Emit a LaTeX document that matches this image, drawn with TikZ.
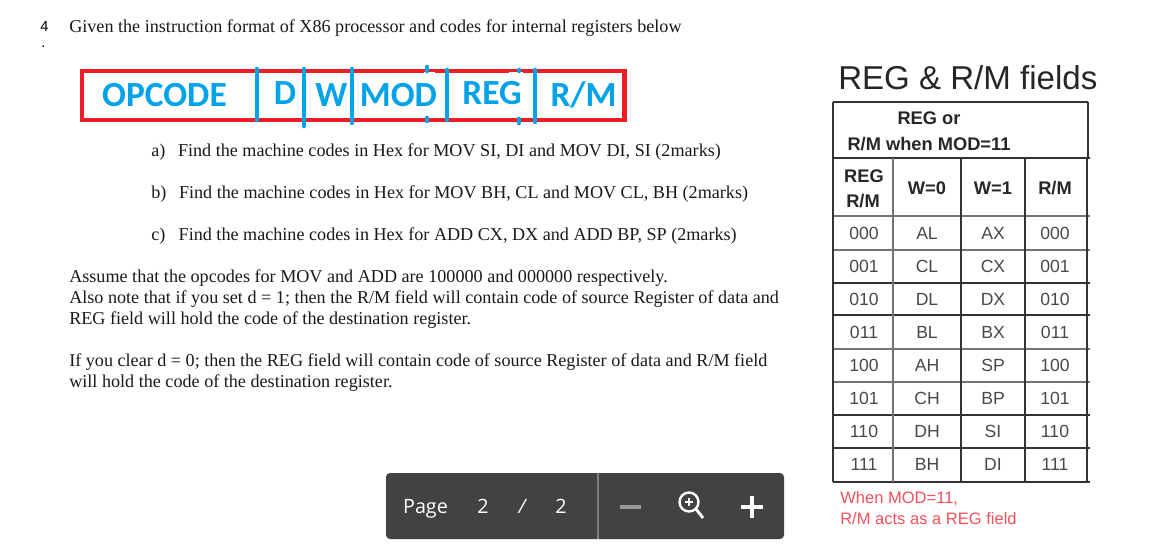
\documentclass[tikz,border=0pt]{standalone}
\usepackage{fontspec}
\setmainfont{Liberation Serif}
\setsansfont{Liberation Sans}
\newfontfamily\calib{Carlito}
\newfontfamily\ui{Open Sans}
\definecolor{fieldred}{HTML}{EE1C25}
\definecolor{fieldblue}{HTML}{00A2E8}
\definecolor{pill}{HTML}{424242}
\definecolor{cellgrey}{HTML}{484848}
\definecolor{notered}{HTML}{F2515A}
\definecolor{ttl}{HTML}{262626}
\tikzset{
  body/.style={anchor=base west,inner sep=0pt,font=\fontsize{13.6pt}{16pt}\selectfont,text=black!90},
  fieldtxt/.style={anchor=base,inner sep=0pt,font=\calib\bfseries\fontsize{26.5pt}{30pt}\selectfont,text=fieldblue},
  sep/.style={draw=fieldblue,line width=3.4pt,line cap=round},
  cellc/.style={anchor=base,inner sep=0pt,font=\sffamily\fontsize{13.2pt}{15pt}\selectfont,text=cellgrey},
  cellh/.style={anchor=base,inner sep=0pt,font=\sffamily\bfseries\fontsize{13.7pt}{15pt}\selectfont,text=black!85},
  thick line/.style={draw=black!80,line width=2pt},
  thin line/.style={draw=black!55,line width=1.3pt},
  uitxt/.style={anchor=base,inner sep=0pt,font=\ui\fontsize{14.8pt}{18pt}\selectfont,text=white},
  notetxt/.style={anchor=base west,inner sep=0pt,font=\sffamily\fontsize{12.4pt}{15pt}\selectfont,text=notered},
}
\begin{document}
\begin{tikzpicture}[x=0.75pt,y=-0.75pt]
\useasboundingbox (0,0) rectangle (1166,545);
% header
\node[anchor=base west,inner sep=0pt,font=\sffamily\fontsize{11pt}{13pt}\selectfont] (num) at (40,32) {4};
\node[anchor=base west,inner sep=0pt,font=\sffamily\fontsize{11pt}{13pt}\selectfont] (dot) at (41,48) {.};
\node[body] (given) at (69,32.5) {Given the instruction format of X86 processor and codes for internal registers below};
% instruction format
\draw[draw=fieldred,line width=3.7pt] (82,71) rectangle (624.5,120);
\fill[white] (424,72.5) rectangle (435,76);
\fill[white] (509,72.5) rectangle (523,76);
\draw[sep] (257,69) -- (257,120);
\draw[sep] (304,69) -- (304,126);
\draw[sep] (352,69) -- (352,123);
\draw[sep] (427,67) -- (427,71);
\draw[sep] (427,118) -- (427,121);
\draw[sep] (447,70) -- (447,120);
\draw[sep] (519,70) -- (519,71);
\draw[sep] (519,119) -- (519,123);
\draw[sep] (535,70) -- (535,122);
\node[fieldtxt] (op) at (164.5,107) {OPCODE};
\node[fieldtxt] (d) at (285,105) {D};
\node[fieldtxt] (w) at (331.5,106.5) {W};
\node[fieldtxt] (mod) at (398.5,107) {MOD};
\node[fieldtxt] (reg) at (492,105) {REG};
\node[fieldtxt] (rm) at (583.5,107) {R/M};
% questions
\node[body] (qa) at (151,156.5) {a)\hspace{9.5pt}Find the machine codes in Hex for MOV SI, DI and MOV DI, SI (2marks)};
\node[body] (qb) at (151,198.5) {b)\hspace{9.5pt}Find the machine codes in Hex for MOV BH, CL and MOV CL, BH (2marks)};
\node[body] (qc) at (151,240.5) {c)\hspace{10pt}Find the machine codes in Hex for ADD CX, DX and ADD BP, SP (2marks)};
\node[body] (p1) at (69,282) {Assume that the opcodes for MOV and ADD are 100000 and 000000 respectively.};
\node[body] (p2) at (69,303) {Also note that if you set d = 1; then the R/M field will contain code of source Register of data and};
\node[body] (p3) at (69,324) {REG field will hold the code of the destination register.};
\node[body] (p4) at (69,366) {If you clear d = 0; then the REG field will contain code of source Register of data and R/M field};
\node[body] (p5) at (69,387) {will hold the code of the destination register.};
% table
\node[anchor=base west,inner sep=0pt,font=\sffamily\fontsize{24.8pt}{28pt}\selectfont,text=ttl] (title) at (838,90) {REG \& R/M fields};
\foreach \y in {216,250,349,382} \draw[thin line] (833,\y) -- (1090,\y);
\foreach \y in {283,315,415,448} \draw[thick line] (833,\y) -- (1090,\y);
\draw[thick line] (833,102) -- (1088,102);
\draw[thick line] (833,158) -- (1090,158);
\draw[thick line] (833,482) -- (1090,482);
\draw[thick line] (833,102) -- (833,482);
\draw[thin line] (893,158) -- (893,482);
\draw[thick line] (961,158) -- (961,482);
\draw[thick line] (1025,158) -- (1025,482);
\draw[thick line] (1087,158) -- (1087,482);
\draw[thick line] (1088,102) -- (1088,158);
\node[cellh] (h1) at (929,125) {REG or};
\node[cellh] (h2) at (929,150.5) {R/M when MOD=11};
\node[cellh] (h3) at (864,182.5) {REG};
\node[cellh] (h4) at (863,208) {R/M};
\node[cellh] (h5) at (927,195) {W=0};
\node[cellh] (h6) at (993,195) {W=1};
\node[cellh] (h7) at (1055,195) {R/M};
\foreach \b/\y/\c/\d/\e/\n in {239.5/a/000/AL/AX/0,272.5/b/001/CL/CX/1,305/c/010/DL/DX/2,338/d/011/BL/BX/3,371/e/100/AH/SP/4,404/f/101/CH/BP/5,437/g/110/DH/SI/6,470/h/111/BH/DI/7}{
  \node[cellc] (c1\y) at (864,\b) {\c};
  \node[cellc] (c2\y) at (927,\b) {\d};
  \node[cellc] (c3\y) at (993,\b) {\e};
  \node[cellc] (c4\y) at (1055,\b) {\c};
}
\node[notetxt] (n1) at (840,503.5) {When MOD=11,};
\node[notetxt] (n2) at (840,524) {R/M acts as a REG field};
% viewer toolbar
\fill[pill,rounded corners=3pt] (386,473) rectangle (784,539);
\draw[draw=black!50!white,line width=0.9pt] (598,473) -- (598,539);
\node[uitxt] (page) at (425.5,513.5) {Page};
\node[uitxt] (n2a) at (483,513.5) {2};
\node[uitxt,font=\ui\itshape\fontsize{14.8pt}{18pt}\selectfont] (sl) at (522,513.5) {/};
\node[uitxt] (n2b) at (561,513.5) {2};
\draw[draw=black!40!white,line width=2.4pt] (620,507) -- (641,507);
\draw[white,line width=1.8pt] (689,502) circle (9.5);
\draw[white,line width=2.2pt] (696,509) -- (703,518);
\draw[white,line width=1.2pt] (685,502) -- (693,502) (689,498) -- (689,506);
\draw[white,line width=2.3pt] (741,507) -- (763,507) (752,496) -- (752,518);
\end{tikzpicture}
\end{document}
